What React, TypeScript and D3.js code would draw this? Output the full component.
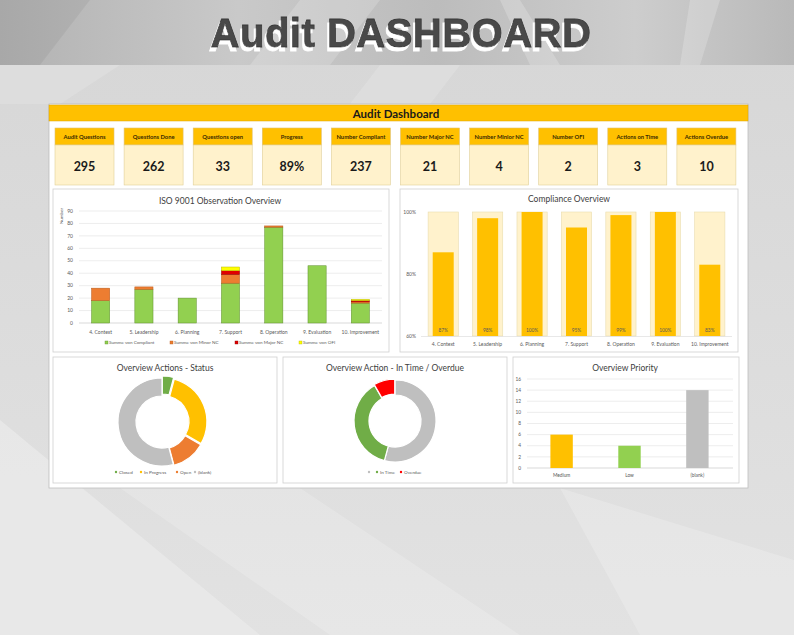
import React from 'react';
import * as d3 from 'd3';

const kpiLabels = [
  'Audit Questions',
  'Questions Done',
  'Questions open',
  'Progress',
  'Number Compliant',
  'Number Major NC',
  'Number Minior NC',
  'Number OFI',
  'Actions on Time',
  'Actions Overdue',
];
const kpiValues = ['295', '262', '33', '89%', '237', '21', '4', '2', '3', '10'];

const obsCategories = [
  '4. Context',
  '5. Leadership',
  '6. Planning',
  '7. Support',
  '8. Operation',
  '9. Evaluation',
  '10. Improvement',
];
const compliant = [18, 27, 20, 32, 77, 46, 16];
const minorNC = [10, 2, 0, 7, 1, 0, 1];
const majorNC = [0, 0, 0, 3, 0, 0, 1];
const ofi = [0, 0, 0, 3, 0, 0, 1];
const obsSeries = ['Summe von Compliant', 'Summe von Minor NC', 'Summe von Major NC', 'Summe von OFI'];
const obsColors = ['#92d050', '#ed7d31', '#e00000', '#ffff00'];
const obsStrokes = ['#5f8f2c', '#b85a1c', '#900000', '#b8b800'];
const obsTicks = [0, 10, 20, 30, 40, 50, 60, 70, 80, 90];

const complianceRate = [0.87, 0.98, 1, 0.95, 0.99, 1, 0.83];
const complianceTicks = [0.6, 0.8, 1];

const statusLabels = ['Closed', 'In Progress', 'Open', '(blank)'];
const statusValues = [1, 7, 3, 13];
const statusColors = ['#70ad47', '#ffc000', '#ed7d31', '#bfbfbf'];

const timeLabels = ['', 'In Time', 'Overdue'];
const timeValues = [13, 9, 2];
const timeColors = ['#bfbfbf', '#70ad47', '#ff0000'];

const priorityLabels = ['Medium', 'Low', '(blank)'];
const priorityValues = [6, 4, 14];
const priorityColors = ['#ffc000', '#92d050', '#bfbfbf'];
const priorityTicks = [0, 2, 4, 6, 8, 10, 12, 14, 16];

const FONT = "Lato, 'Liberation Sans', sans-serif";
const AXIS = '#595959';
const GRID = '#e0e0e0';

const Panel = ({ x, y, w, h }: { x: number; y: number; w: number; h: number }) => (
  <rect x={x} y={y} width={w} height={h} fill="#fff" stroke="#cfcfcf" strokeWidth={0.8} />
);

const ObservationChart = () => {
  const x = d3.scaleBand().domain(obsCategories).range([79, 382]).paddingInner(0.58).paddingOuter(0.29);
  const y = d3.scaleLinear().domain([0, 90]).range([323, 211]);
  const rows = obsCategories.map((c, i) => ({ c, a: compliant[i], b: minorNC[i], m: majorNC[i], o: ofi[i] }));
  const stack = d3.stack<any>().keys(['a', 'b', 'm', 'o'])(rows);
  const legendX = [105, 170, 235, 299];
  return (
    <g fontFamily={FONT}>
      <Panel x={53} y={189} w={336} h={163} />
      <text x={220} y={204} textAnchor="middle" fontSize={8.5} fill="#404040">
        ISO 9001 Observation Overview
      </text>
      <text transform="translate(63,216) rotate(-90)" textAnchor="middle" fontSize={4.5} fill={AXIS}>
        Number
      </text>
      {obsTicks.map((t) => (
        <g key={t}>
          <line x1={79} x2={382} y1={y(t)} y2={y(t)} stroke={t === 0 ? '#bfbfbf' : GRID} strokeWidth={0.6} />
          <text x={73} y={y(t) + 1.7} textAnchor="end" fontSize={5} fill={AXIS}>
            {t}
          </text>
        </g>
      ))}
      {stack.map((s, si) =>
        s.map((d, i) =>
          d[1] > d[0] ? (
            <rect
              key={`${si}-${i}`}
              x={x(obsCategories[i])!}
              y={y(d[1])}
              width={x.bandwidth()}
              height={y(d[0]) - y(d[1])}
              fill={obsColors[si]}
              stroke={obsStrokes[si]}
              strokeWidth={0.5}
            />
          ) : null
        )
      )}
      {obsCategories.map((c) => (
        <text key={c} x={x(c)! + x.bandwidth() / 2} y={334} textAnchor="middle" fontSize={5} fill={AXIS}>
          {c}
        </text>
      ))}
      {obsSeries.map((s, i) => (
        <g key={s}>
          <rect x={legendX[i]} y={341} width={3} height={3} fill={obsColors[i]} stroke={obsStrokes[i]} strokeWidth={0.4} />
          <text x={legendX[i] + 4} y={344} fontSize={4.6} fill={AXIS}>
            {s}
          </text>
        </g>
      ))}
    </g>
  );
};

const ComplianceChart = () => {
  const x = d3.scaleBand().domain(obsCategories).range([421, 732]).paddingInner(0.32).paddingOuter(0.16);
  const y = d3.scaleLinear().domain([0.6, 1]).range([336, 212]);
  const fmt = d3.format('.0%');
  const fgW = 21;
  return (
    <g fontFamily={FONT}>
      <Panel x={400} y={189} w={338} h={163} />
      <text x={569} y={202} textAnchor="middle" fontSize={8.5} fill="#404040">
        Compliance Overview
      </text>
      {complianceTicks.map((t) => (
        <text key={t} x={416} y={y(t) + 1.7} textAnchor="end" fontSize={5} fill={AXIS}>
          {fmt(t)}
        </text>
      ))}
      {obsCategories.map((c, i) => {
        const cx = x(c)! + x.bandwidth() / 2;
        return (
          <g key={c}>
            <rect x={x(c)!} y={y(1)} width={x.bandwidth()} height={y(0.6) - y(1)} fill="#fff2cc" stroke="#e9dcae" strokeWidth={0.6} />
            <rect x={cx - fgW / 2} y={y(complianceRate[i])} width={fgW} height={y(0.6) - y(complianceRate[i])} fill="#ffc000" />
            <text x={cx} y={332} textAnchor="middle" fontSize={4.8} fill="#595959">
              {fmt(complianceRate[i])}
            </text>
            <text x={cx} y={346} textAnchor="middle" fontSize={5} fill={AXIS}>
              {c}
            </text>
          </g>
        );
      })}
      <line x1={421} x2={732} y1={336.5} y2={336.5} stroke="#d9d9d9" strokeWidth={0.6} />
    </g>
  );
};

const Donut = ({
  px,
  title,
  cx,
  cy,
  r0,
  r1,
  labels,
  values,
  colors,
  explode,
  legendX,
}: {
  px: number;
  title: string;
  cx: number;
  cy: number;
  r0: number;
  r1: number;
  labels: string[];
  values: number[];
  colors: string[];
  explode: number[];
  legendX: number[];
}) => {
  const pie = d3.pie<number>().sort(null)(values);
  const arc = d3.arc<d3.PieArcDatum<number>>().innerRadius(r0).outerRadius(r1);
  return (
    <g fontFamily={FONT}>
      <Panel x={px} y={357} w={224} h={126} />
      <text x={px + 112} y={371} textAnchor="middle" fontSize={8.5} fill="#404040">
        {title}
      </text>
      {pie.map((p, i) => {
        const mid = (p.startAngle + p.endAngle) / 2;
        const dx = Math.sin(mid) * explode[i];
        const dy = -Math.cos(mid) * explode[i];
        return (
          <path
            key={i}
            d={arc(p)!}
            transform={`translate(${cx + dx},${cy + dy})`}
            fill={colors[i]}
            stroke="#fff"
            strokeWidth={1.2}
          />
        );
      })}
      {labels.map((l, i) => (
        <g key={i}>
          <circle cx={legendX[i]} cy={472} r={1.2} fill={colors[i]} />
          <text x={legendX[i] + 3} y={473.8} fontSize={4.6} fill={AXIS}>
            {l}
          </text>
        </g>
      ))}
    </g>
  );
};

const PriorityChart = () => {
  const x = d3.scaleBand().domain(priorityLabels).range([528, 731]).paddingInner(0.67).paddingOuter(0.33);
  const y = d3.scaleLinear().domain([0, 16]).range([468, 379]);
  return (
    <g fontFamily={FONT}>
      <Panel x={513} y={357} w={226} h={126} />
      <text x={625} y={371} textAnchor="middle" fontSize={8.5} fill="#404040">
        Overview Priority
      </text>
      {priorityTicks.map((t) => (
        <g key={t}>
          <line x1={527} x2={733} y1={y(t)} y2={y(t)} stroke={t === 0 ? '#bfbfbf' : GRID} strokeWidth={0.6} />
          <text x={521} y={y(t) + 1.7} textAnchor="end" fontSize={4.8} fill={AXIS}>
            {t}
          </text>
        </g>
      ))}
      {priorityLabels.map((c, i) => (
        <g key={c}>
          <rect x={x(c)!} y={y(priorityValues[i])} width={x.bandwidth()} height={y(0) - y(priorityValues[i])} fill={priorityColors[i]} />
          <text x={x(c)! + x.bandwidth() / 2} y={477} textAnchor="middle" fontSize={4.8} fill={AXIS}>
            {c}
          </text>
        </g>
      ))}
    </g>
  );
};

const Background = () => (
  <g>
    <defs>
      <linearGradient id="topband" x1="0" x2="1" y1="0" y2="0">
        <stop offset="0" stopColor="#b2b2b2" />
        <stop offset="0.3" stopColor="#c9c9c9" />
        <stop offset="0.55" stopColor="#bcbcbc" />
        <stop offset="0.8" stopColor="#cdcdcd" />
        <stop offset="1" stopColor="#b9b9b9" />
      </linearGradient>
      <linearGradient id="lower" x1="0" x2="0" y1="0" y2="1">
        <stop offset="0" stopColor="#d6d6d6" />
        <stop offset="1" stopColor="#e2e2e2" />
      </linearGradient>
      <filter id="titleShadow" x="-5%" y="-20%" width="110%" height="150%">
        <feDropShadow dx={-2} dy={4} stdDeviation={0.3} floodColor="#ffffff" floodOpacity={1} />
      </filter>
    </defs>
    <rect x={0} y={0} width={794} height={635} fill="url(#lower)" />
    <polygon points="0,420 260,635 0,635" fill="#ebebeb" opacity={0.7} />
    <polygon points="120,488 330,635 520,635 300,488" fill="#ffffff" opacity={0.18} />
    <polygon points="560,488 794,560 794,635 640,635" fill="#ffffff" opacity={0.2} />
    <polygon points="0,65 120,65 60,104 0,104" fill="#ffffff" opacity={0.15} />
    <polygon points="380,65 460,65 430,104 350,104" fill="#ffffff" opacity={0.15} />
    <rect x={0} y={0} width={794} height={65} fill="url(#topband)" />
    <polygon points="300,0 380,0 330,65 250,65" fill="#ffffff" opacity={0.18} />
    <polygon points="500,0 520,0 560,65 530,65" fill="#ffffff" opacity={0.2} />
    <polygon points="690,0 720,0 700,65 680,65" fill="#ffffff" opacity={0.2} />
    <polygon points="0,0 90,0 40,65 0,65" fill="#000000" opacity={0.05} />
  </g>
);

export default function App() {
  const cardX = d3.range(kpiLabels.length).map((i) => 55 + i * 69.1);
  return (
    <svg
      width={794}
      height={635}
      viewBox="0 0 794 635"
      style={{ position: 'absolute', left: 0, top: 0 }}
    >
      <Background />
      <text
        x={401}
        y={47}
        textAnchor="middle"
        fontFamily="'Liberation Sans', Arial, sans-serif"
        fontWeight="bold"
        fontSize={40}
        fill="#4a4a4a"
        stroke="#3a3a3a"
        strokeWidth={0.8}
        letterSpacing={0.5}
        filter="url(#titleShadow)"
      >
        Audit DASHBOARD
      </text>

      <rect x={49} y={104} width={699} height={384} fill="#fff" stroke="#bdbdbd" strokeWidth={0.8} />
      <rect x={49} y={105} width={699} height={16} fill="#ffc000" stroke="#d9a400" strokeWidth={0.5} />
      <text x={396} y={117.5} textAnchor="middle" fontFamily={FONT} fontWeight="bold" fontSize={11.5} fill="#1a1a1a">
        Audit Dashboard
      </text>

      {kpiLabels.map((l, i) => (
        <g key={l} fontFamily={FONT}>
          <rect x={cardX[i]} y={128} width={59} height={17} fill="#ffc000" stroke="#e0c070" strokeWidth={0.6} />
          <rect x={cardX[i]} y={145} width={59} height={40} fill="#fff2cc" stroke="#e0cf98" strokeWidth={0.6} />
          <text x={cardX[i] + 29.5} y={138.5} textAnchor="middle" fontSize={5.8} fontWeight="bold" fill="#3a2a00">
            {l}
          </text>
          <text x={cardX[i] + 29.5} y={170.5} textAnchor="middle" fontSize={12.5} fontWeight="bold" fill="#1a1a1a">
            {kpiValues[i]}
          </text>
        </g>
      ))}

      <ObservationChart />
      <ComplianceChart />
      <Donut
        px={53}
        title="Overview Actions - Status"
        cx={162}
        cy={422}
        r0={26}
        r1={44}
        labels={statusLabels}
        values={statusValues}
        colors={statusColors}
        explode={[2, 1, 1, 0]}
        legendX={[116, 141, 177, 195]}
      />
      <Donut
        px={283}
        title="Overview Action - In Time / Overdue"
        cx={395}
        cy={421}
        r0={26}
        r1={41}
        labels={timeLabels}
        values={timeValues}
        colors={timeColors}
        explode={[0, 0, 1]}
        legendX={[369, 377, 401]}
      />
      <PriorityChart />
    </svg>
  );
}
